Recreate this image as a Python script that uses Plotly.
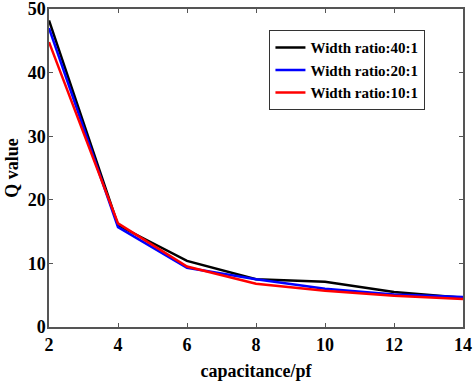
import plotly.graph_objects as go

capacitance = [2, 4, 6, 8, 10, 12, 14]
q_40 = [48.2, 16.0, 10.4, 7.5, 7.1, 5.5, 4.6]
q_20 = [47.0, 15.7, 9.3, 7.5, 6.0, 5.1, 4.7]
q_10 = [44.8, 16.3, 9.5, 6.8, 5.7, 4.9, 4.4]
names = ["Width ratio:40:1", "Width ratio:20:1", "Width ratio:10:1"]
colors = ["#000000", "#0000ff", "#ff0000"]

fig = go.Figure()
for ys, n, c in zip([q_40, q_20, q_10], names, colors):
    fig.add_trace(go.Scatter(x=capacitance, y=ys, mode="lines", name=n,
                             line=dict(color=c, width=2.5)))

font = "Liberation Serif"
axis_common = dict(showline=True, linecolor="#555555", linewidth=1.5, mirror="ticks",
                   ticks="inside", ticklen=4, tickcolor="#555555", showgrid=False,
                   zeroline=False, automargin=False, ticklabeloverflow="allow",
                   tickfont=dict(family=font, size=18, color="black", weight="bold"))
fig.update_layout(
    width=474, height=381,
    margin=dict(l=49, r=11, t=9, b=54),
    plot_bgcolor="white", paper_bgcolor="white",
    font=dict(family=font, color="black"),
    xaxis=dict(range=[2, 14], tickvals=[2, 4, 6, 8, 10, 12, 14],
               title=dict(text="capacitance/pf",
                          font=dict(family=font, size=18, weight="bold"), standoff=10),
               ticklabelstandoff=1,
               **axis_common),
    yaxis=dict(range=[0, 50], tickvals=[0, 10, 20, 30, 40, 50],
               title=dict(text="Q value",
                          font=dict(family=font, size=18, weight="bold"), standoff=4),
               ticklabelstandoff=-2,
               **axis_common),
    legend=dict(x=0.532, y=0.934, xanchor="left", yanchor="top",
                bordercolor="#333333", borderwidth=1.2, bgcolor="white",
                font=dict(family=font, size=15, color="black", weight="bold"),
                tracegroupgap=0, itemwidth=30),
)
fig.write_html("out.html", config={"displayModeBar": False},
               post_script="document.body.style.margin='0';document.body.style.overflow='hidden';")
